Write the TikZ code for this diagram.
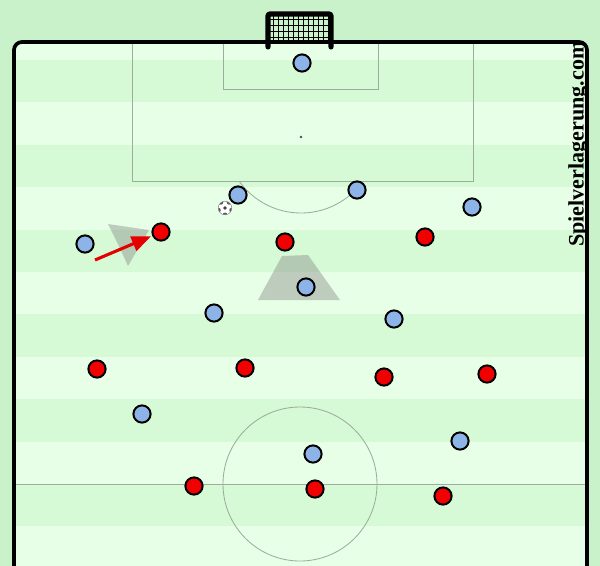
\documentclass[tikz,border=0pt]{standalone}
\usepackage{tikz}
\usepackage{fontspec}
\usetikzlibrary{arrows,shapes}
\newfontfamily\sitefont{Liberation Serif}
\pgfdeclarelayer{background}
\pgfsetlayers{background,main}
\definecolor{outergreen}{RGB}{202,242,202}
\definecolor{lightgreen}{RGB}{231,255,231}
\definecolor{darkgreen}{RGB}{213,250,213}
\definecolor{linegray}{RGB}{158,172,158}
\definecolor{blueteam}{RGB}{140,180,232}
\definecolor{redteam}{RGB}{242,0,0}
\tikzstyle{blueplayer}=[circle,draw=black,fill=blueteam,line width=1.4pt,minimum size=0.43cm,inner sep=0pt]
\tikzstyle{redplayer}=[circle,draw=black,fill=redteam,line width=1.4pt,minimum size=0.43cm,inner sep=0pt]
\tikzstyle{ball}=[circle,draw=black!45,fill=white,line width=0.4pt,minimum size=0.34cm,inner sep=0pt]
\tikzstyle{pitchline}=[draw=linegray,line width=0.6pt]
\tikzstyle{coverzone}=[fill=black!50,fill opacity=0.4]
\tikzstyle{pass}=[draw=red!90!black,line width=2.2pt,-triangle 45,shorten >=1pt]

\begin{document}
\begin{tikzpicture}[x=0.025cm,y=-0.025cm]
    \useasboundingbox (0,0) rectangle (600,566);
    \clip (0,0) rectangle (600,566);
    % Draw the pitch with its stripes
    \fill[outergreen] (0,0) rectangle (600,566);
    \fill[lightgreen,rounded corners=0.2cm] (14,42) rectangle (587,620);
    \foreach \ytop in {60,144.8,229.6,314.4,399.2,484}
        \fill[darkgreen] (15,\ytop) rectangle (586,\ytop+42.4);
    % Markings: boxes, arc, halfway line, centre circle
    \draw[pitchline] (132,42) -- (132,181) -- (473,181) -- (473,42);
    \draw[pitchline] (223,42) -- (223,89) -- (378,89) -- (378,42);
    \fill[black!70] (301,137) circle (1.3);
    \begin{scope}
        \clip (0,181) rectangle (600,300);
        \draw[pitchline] (301,137) circle (76);
    \end{scope}
    \draw[pitchline] (14,484) -- (587,484);
    \draw[pitchline] (300,484) circle (77);
    \draw[line width=2.6pt,rounded corners=0.2cm] (14,620) -- (14,42) -- (587,42) -- (587,620);
    % The goal
    \foreach \nx in {273,278,...,328}
        \draw[line width=0.4pt] (\nx,14) -- (\nx,42);
    \foreach \ny in {19,25,31,37}
        \draw[line width=0.4pt] (268,\ny) -- (331,\ny);
    \draw[line width=3.6pt,line cap=round,rounded corners=0.05cm] (268,47) -- (268,14) -- (331,14) -- (331,47);
    % Cover shadows
    \fill[coverzone] (108,224) -- (149,230) -- (128,266) -- (118,244) -- cycle;
    \fill[coverzone] (282,256) -- (308,255) -- (340,300) -- (258,300) -- cycle;
    % The ball
    \node[ball] (ball) at (225,208) {};
    \begin{scope}
        \clip (225,208) circle (6.6);
        \fill[black!75] (ball.center) circle (1.9);
        \foreach \a in {18,90,162,234,306}
            \fill[black!65] ([shift={(\a:7)}]ball.center) circle (2.4);
    \end{scope}
    % First we draw the players
    \foreach \pos/\name in {{(302,63)/b1}, {(238,195)/b2}, {(357,190)/b3}, {(472,207)/b4},
        {(85,244)/b5}, {(306,287)/b6}, {(214,313)/b7}, {(394,319)/b8},
        {(142,414)/b9}, {(460,441)/b10}, {(313,454)/b11}}
        \node[blueplayer] (\name) at \pos {};
    \foreach \pos/\name in {{(161,232)/r1}, {(285,242)/r2}, {(425,237)/r3}, {(97,369)/r4},
        {(245,368)/r5}, {(384,377)/r6}, {(487,374)/r7}, {(194,486)/r8},
        {(315,489)/r9}, {(443,496)/r10}}
        \node[redplayer] (\name) at \pos {};
    % The pass
    \coordinate (passstart) at (95,260);
    \draw[pass] (passstart) -- (r1);
    % Site name
    \node[rotate=90,anchor=base,inner sep=0pt,font=\sitefont\bfseries\fontsize{15.7}{18}\selectfont] (site) at (583.5,144) {Spielverlagerung.com};
\end{tikzpicture}
\end{document}
